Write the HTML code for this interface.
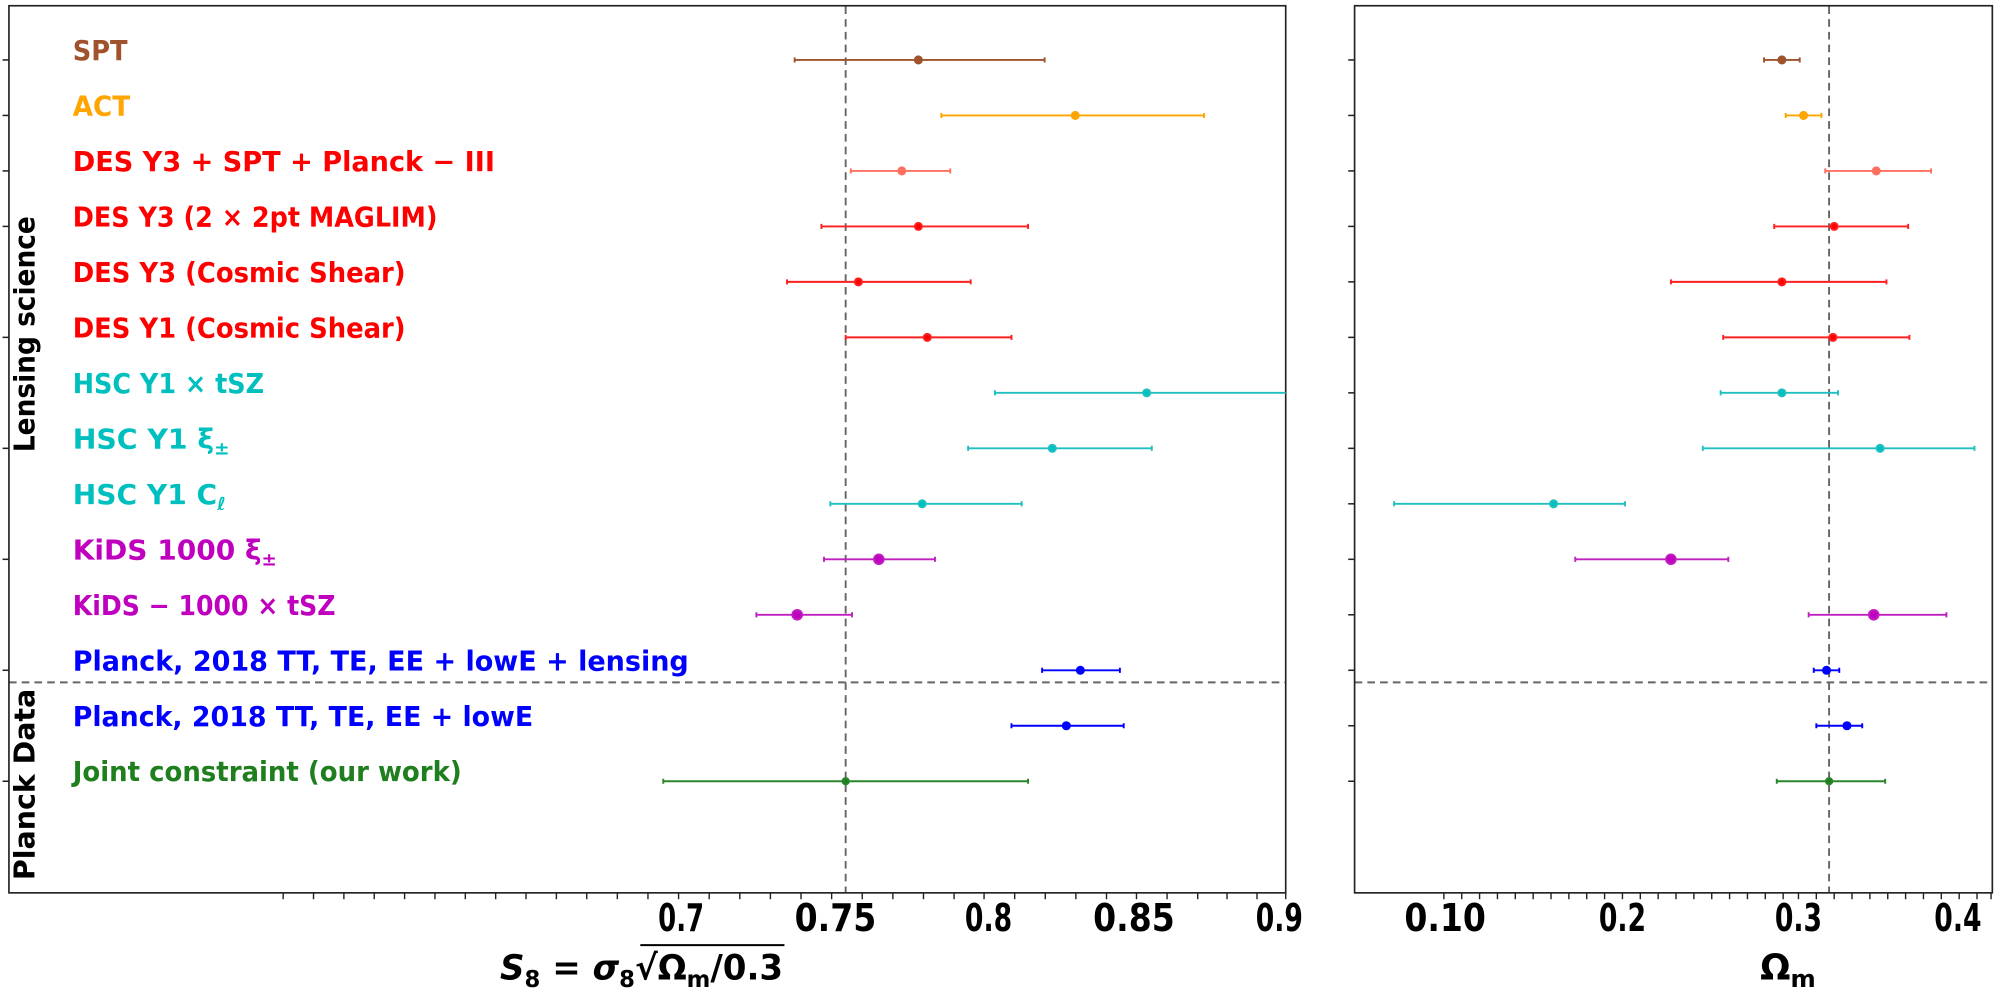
<!DOCTYPE html>
<html><head><meta charset="utf-8"><style>html,body{margin:0;padding:0;background:#fff}svg{display:block}</style></head>
<body>
<svg width="2000" height="988" viewBox="0 0 1568 774.6" xmlns="http://www.w3.org/2000/svg" font-family="'DejaVu Sans','Liberation Sans',sans-serif" font-weight="bold">
<rect width="1568" height="774.6" fill="#fff"/>
<g stroke="#666" stroke-width="1.5" stroke-dasharray="6,4" fill="none">
<line x1="663" y1="5" x2="663" y2="700"/>
<line x1="1434" y1="5" x2="1434" y2="700"/>
<line x1="7" y1="535" x2="1008" y2="535"/>
<line x1="1062" y1="535" x2="1562" y2="535"/>
</g>
<g stroke="#222" stroke-width="1.3" fill="none">
<rect x="7" y="4.5" width="1001" height="695.5"/>
<rect x="1062" y="4.5" width="500" height="695.5"/>
</g>
<g stroke="#222" stroke-width="1.2">
<line x1="2" y1="47" x2="7" y2="47"/><line x1="2" y1="90.5" x2="7" y2="90.5"/><line x1="2" y1="134" x2="7" y2="134"/><line x1="2" y1="177.5" x2="7" y2="177.5"/><line x1="2" y1="264.5" x2="7" y2="264.5"/><line x1="2" y1="351.5" x2="7" y2="351.5"/><line x1="2" y1="438.5" x2="7" y2="438.5"/><line x1="2" y1="525.5" x2="7" y2="525.5"/><line x1="2" y1="612.5" x2="7" y2="612.5"/>
<line x1="1057" y1="47" x2="1062" y2="47"/><line x1="1057" y1="90.5" x2="1062" y2="90.5"/><line x1="1057" y1="134" x2="1062" y2="134"/><line x1="1057" y1="177.5" x2="1062" y2="177.5"/><line x1="1057" y1="221" x2="1062" y2="221"/><line x1="1057" y1="264.5" x2="1062" y2="264.5"/><line x1="1057" y1="308" x2="1062" y2="308"/><line x1="1057" y1="351.5" x2="1062" y2="351.5"/><line x1="1057" y1="395" x2="1062" y2="395"/><line x1="1057" y1="438.5" x2="1062" y2="438.5"/><line x1="1057" y1="482" x2="1062" y2="482"/><line x1="1057" y1="525.5" x2="1062" y2="525.5"/><line x1="1057" y1="569" x2="1062" y2="569"/><line x1="1057" y1="612.5" x2="1062" y2="612.5"/>
</g>
<g stroke="#222" stroke-width="1.1">
<path d="M222 700v5M245.8 700v5M269.6 700v5M293.4 700v5M317.2 700v5M341 700v5M364.8 700v5M388.6 700v5M412.4 700v5M436.2 700v5M460 700v5M484 700v5M508 700v5M532 700v5M556 700v5M580 700v5M604 700v5M628 700v5M652 700v5M676 700v5M700 700v5M724 700v5M748 700v5M771.5 700v5M795.5 700v5M819.5 700v5M843.5 700v5M867.5 700v5M891 700v5M915 700v5M939 700v5M962 700v5M985.5 700v5M1008 700v5"/>
<path d="M1132 700v5M1146 700v5M1160 700v5M1174 700v5M1188 700v5M1202 700v5M1216 700v5M1230 700v5M1244 700v5M1258 700v5M1272 700v5M1286 700v5M1300 700v5M1314 700v5M1328 700v5M1342 700v5M1356 700v5M1370 700v5M1384 700v5M1398 700v5M1410 700v5M1424 700v5M1438 700v5M1452 700v5M1466 700v5M1480 700v5M1494 700v5M1508 700v5M1522 700v5M1536 700v5M1550 700v5M1561 700v5"/>
</g>
<g font-size="30" fill="#000" text-anchor="middle">
<text x="534" y="730" textLength="36" lengthAdjust="spacingAndGlyphs">0.7</text>
<text x="655" y="730" textLength="64" lengthAdjust="spacingAndGlyphs">0.75</text>
<text x="775" y="730" textLength="37" lengthAdjust="spacingAndGlyphs">0.8</text>
<text x="889" y="730" textLength="64" lengthAdjust="spacingAndGlyphs">0.85</text>
<text x="1003" y="730" textLength="37" lengthAdjust="spacingAndGlyphs">0.9</text>
<text x="1133" y="730" textLength="64" lengthAdjust="spacingAndGlyphs">0.10</text>
<text x="1272" y="730" textLength="37" lengthAdjust="spacingAndGlyphs">0.2</text>
<text x="1410" y="730" textLength="37" lengthAdjust="spacingAndGlyphs">0.3</text>
<text x="1535" y="730" textLength="37" lengthAdjust="spacingAndGlyphs">0.4</text>
</g>
<text x="392" y="768" font-size="27" fill="#000" textLength="222" lengthAdjust="spacingAndGlyphs"><tspan font-style="italic">S</tspan><tspan font-size="18" dy="6">8</tspan><tspan dy="-6"> = </tspan><tspan font-style="italic">σ</tspan><tspan font-size="18" dy="6">8</tspan><tspan dy="-6">√</tspan><tspan>Ω</tspan><tspan font-size="18" dy="6">m</tspan><tspan dy="-6">/0.3</tspan></text>
<line x1="502" y1="741" x2="615" y2="741" stroke="#000" stroke-width="1.5"/>
<text x="1380" y="768" font-size="28" fill="#000">Ω<tspan font-size="19" dy="6">m</tspan></text>
<text transform="translate(27,262) rotate(-90)" text-anchor="middle" font-size="22" fill="#000" textLength="185" lengthAdjust="spacingAndGlyphs">Lensing science</text>
<text transform="translate(27,615) rotate(-90)" text-anchor="middle" font-size="22" fill="#000" textLength="150" lengthAdjust="spacingAndGlyphs">Planck Data</text>
<g font-size="21.5">
<text x="57" y="47" fill="#a0522d" textLength="43" lengthAdjust="spacingAndGlyphs">SPT</text>
<text x="57" y="90.5" fill="#ffa500" textLength="45" lengthAdjust="spacingAndGlyphs">ACT</text>
<text x="57" y="134" fill="#ff0000" textLength="331" lengthAdjust="spacingAndGlyphs">DES Y3 + SPT + Planck − III</text>
<text x="57" y="177.5" fill="#ff0000" textLength="286" lengthAdjust="spacingAndGlyphs">DES Y3 (2 × 2pt MAGLIM)</text>
<text x="57" y="221" fill="#ff0000" textLength="261" lengthAdjust="spacingAndGlyphs">DES Y3 (Cosmic Shear)</text>
<text x="57" y="264.5" fill="#ff0000" textLength="261" lengthAdjust="spacingAndGlyphs">DES Y1 (Cosmic Shear)</text>
<text x="57" y="308" fill="#00bfbf" textLength="150" lengthAdjust="spacingAndGlyphs">HSC Y1 × tSZ</text>
<text x="57" y="351.5" fill="#00bfbf" textLength="123" lengthAdjust="spacingAndGlyphs">HSC Y1 ξ<tspan font-size="14" dy="5">±</tspan></text>
<text x="57" y="395" fill="#00bfbf" textLength="120" lengthAdjust="spacingAndGlyphs">HSC Y1 C<tspan font-size="14" dy="5" font-style="italic">ℓ</tspan></text>
<text x="57" y="438.5" fill="#bf00bf" textLength="160" lengthAdjust="spacingAndGlyphs">KiDS 1000 ξ<tspan font-size="14" dy="5">±</tspan></text>
<text x="57" y="482" fill="#bf00bf" textLength="206" lengthAdjust="spacingAndGlyphs">KiDS − 1000 × tSZ</text>
<text x="57" y="525.5" fill="#0000ff" textLength="483" lengthAdjust="spacingAndGlyphs">Planck, 2018 TT, TE, EE + lowE + lensing</text>
<text x="57" y="569" fill="#0000ff" textLength="361" lengthAdjust="spacingAndGlyphs">Planck, 2018 TT, TE, EE + lowE</text>
<text x="57" y="612.5" fill="#1f7f1f" textLength="305" lengthAdjust="spacingAndGlyphs">Joint constraint (our work)</text>
</g>
<g stroke-width="1.5">
<g stroke="#a0522d" fill="#a0522d"><path d="M623 47H819M623 45v4M819 45v4M1383 47H1411M1383 45v4M1411 45v4"/><circle cx="720" cy="47" r="2.8"/><circle cx="1397" cy="47" r="2.8"/></g>
<g stroke="#ffa500" fill="#ffa500"><path d="M738 90.5H944M738 88.5v4M944 88.5v4M1400 90.5H1428M1400 88.5v4M1428 88.5v4"/><circle cx="843" cy="90.5" r="2.8"/><circle cx="1414" cy="90.5" r="2.8"/></g>
<g stroke="#ff7060" fill="#ff7060"><path d="M667 134H745M667 132v4M745 132v4M1431 134H1514M1431 132v4M1514 132v4"/><circle cx="707" cy="134" r="2.8"/><circle cx="1471" cy="134" r="2.8"/></g>
<g stroke="#ff2020" fill="#ff0000"><path d="M644 177.5H806M644 175.5v4M806 175.5v4M1391 177.5H1496M1391 175.5v4M1496 175.5v4"/><circle cx="720" cy="177.5" r="2.8"/><circle cx="1438" cy="177.5" r="2.8"/></g>
<g stroke="#ff2020" fill="#ff0000"><path d="M617 221H761M617 219v4M761 219v4M1310 221H1479M1310 219v4M1479 219v4"/><circle cx="673" cy="221" r="2.8"/><circle cx="1397" cy="221" r="2.8"/></g>
<g stroke="#ff2020" fill="#ff0000"><path d="M663 264.5H793M663 262.5v4M793 262.5v4M1351 264.5H1497M1351 262.5v4M1497 262.5v4"/><circle cx="727" cy="264.5" r="2.8"/><circle cx="1437" cy="264.5" r="2.8"/></g>
<g stroke="#20c0c0" fill="#00bfbf"><path d="M780 308H1008M780 306v4M1349 308H1441M1349 306v4M1441 306v4"/><circle cx="899" cy="308" r="2.8"/><circle cx="1397" cy="308" r="2.8"/></g>
<g stroke="#20c0c0" fill="#00bfbf"><path d="M759 351.5H903M759 349.5v4M903 349.5v4M1335 351.5H1548M1335 349.5v4M1548 349.5v4"/><circle cx="825" cy="351.5" r="2.8"/><circle cx="1474" cy="351.5" r="2.8"/></g>
<g stroke="#20c0c0" fill="#00bfbf"><path d="M651 395H801M651 393v4M801 393v4M1093 395H1274M1093 393v4M1274 393v4"/><circle cx="723" cy="395" r="2.8"/><circle cx="1218" cy="395" r="2.8"/></g>
<g stroke="#c020c0" fill="#bf00bf"><path d="M646 438.5H733M646 436.5v4M733 436.5v4M1235 438.5H1355M1235 436.5v4M1355 436.5v4"/><circle cx="689" cy="438.5" r="3.8"/><circle cx="1310" cy="438.5" r="3.8"/></g>
<g stroke="#c020c0" fill="#bf00bf"><path d="M593 482H668M593 480v4M668 480v4M1418 482H1526M1418 480v4M1526 480v4"/><circle cx="625" cy="482" r="3.8"/><circle cx="1469" cy="482" r="3.8"/></g>
<g stroke="#0000ff" fill="#0000ff"><path d="M817 525.5H878M817 523.5v4M878 523.5v4M1422 525.5H1442M1422 523.5v4M1442 523.5v4"/><circle cx="847" cy="525.5" r="2.8"/><circle cx="1432" cy="525.5" r="2.8"/></g>
<g stroke="#0000ff" fill="#0000ff"><path d="M793 569H881M793 567v4M881 567v4M1424 569H1460M1424 567v4M1460 567v4"/><circle cx="836" cy="569" r="2.8"/><circle cx="1448" cy="569" r="2.8"/></g>
<g stroke="#2a862a" fill="#1f7f1f"><path d="M520 612.5H806M520 610.5v4M806 610.5v4M1393 612.5H1478M1393 610.5v4M1478 610.5v4"/><circle cx="663" cy="612.5" r="2.5"/><circle cx="1434" cy="612.5" r="2.5"/></g>
</g>
</svg>
</body></html>
